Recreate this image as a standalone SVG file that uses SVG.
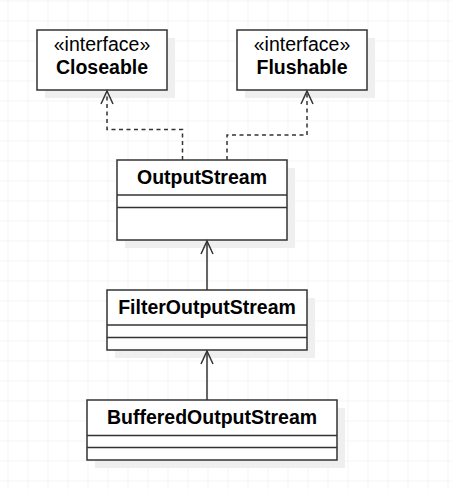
<svg xmlns="http://www.w3.org/2000/svg" width="452" height="489" viewBox="0 0 452 489">
<defs>
<pattern id="grid" x="7.5" y="0.5" width="20" height="20" patternUnits="userSpaceOnUse">
<path d="M0,0 H20 M0,0 V20" fill="none" stroke="#ebebeb" stroke-width="1"/>
</pattern>
<marker id="open" markerUnits="userSpaceOnUse" viewBox="-15 -8 16 16" refX="0" refY="0" markerWidth="16" markerHeight="16" orient="auto" overflow="visible">
<path d="M-13,-6 L0,0 L-13,6" fill="none" stroke="#333" stroke-width="1.5"/>
</marker>
<style>
.box{fill:#fff;stroke:#333;stroke-width:1.5}
.sh{fill:#efefef;stroke:none}
.ln{stroke:#333;stroke-width:1.5}
.st{font-family:"Liberation Sans",Arial,sans-serif;font-size:19.5px;fill:#000;text-anchor:middle}
.nm{font-family:"Liberation Sans",Arial,sans-serif;font-size:19.5px;font-weight:bold;fill:#000;text-anchor:middle}
.edge{fill:none;stroke:#333;stroke-width:1.5}
.dash{stroke-dasharray:4 3.5}
</style>
</defs>
<rect x="0" y="0" width="452" height="489" fill="#fff"/>
<rect x="0" y="0" width="452" height="489" fill="url(#grid)"/>

<g id="Closeable">
<rect class="sh" x="45" y="38" width="130" height="60"/>
<rect class="box" x="37" y="30" width="130" height="60"/>
<text class="st" x="102" y="51">«interface»</text>
<text class="nm" x="102" y="74">Closeable</text>
</g>

<g id="Flushable">
<rect class="sh" x="245" y="38" width="130" height="60"/>
<rect class="box" x="237" y="30" width="130" height="60"/>
<text class="st" x="302" y="51">«interface»</text>
<text class="nm" x="302" y="74">Flushable</text>
</g>

<g id="OutputStream">
<rect class="sh" x="125" y="168" width="170" height="80"/>
<rect class="box" x="117" y="160" width="170" height="80"/>
<line class="ln" x1="117" y1="195" x2="287" y2="195"/>
<line class="ln" x1="117" y1="207.5" x2="287" y2="207.5"/>
<text class="nm" x="202" y="184">OutputStream</text>
</g>

<g id="FilterOutputStream">
<rect class="sh" x="115" y="298" width="200" height="60"/>
<rect class="box" x="107" y="290" width="200" height="60"/>
<line class="ln" x1="107" y1="325" x2="307" y2="325"/>
<line class="ln" x1="107" y1="337.5" x2="307" y2="337.5"/>
<text class="nm" x="207" y="314">FilterOutputStream</text>
</g>

<g id="BufferedOutputStream">
<rect class="sh" x="95" y="408" width="250" height="60"/>
<rect class="box" x="87" y="400" width="250" height="60"/>
<line class="ln" x1="87" y1="435.5" x2="337" y2="435.5"/>
<line class="ln" x1="87" y1="447.5" x2="337" y2="447.5"/>
<text class="nm" x="212" y="424">BufferedOutputStream</text>
</g>

<g id="connectors">
<path class="edge dash" d="M182.5,160 V129.5 H107 V91" marker-end="url(#open)"/>
<path class="edge dash" d="M227,160 V135 H307 V91" marker-end="url(#open)"/>
<path class="edge" d="M207,290 V241" marker-end="url(#open)"/>
<path class="edge" d="M207,400 V351" marker-end="url(#open)"/>
</g>
</svg>
